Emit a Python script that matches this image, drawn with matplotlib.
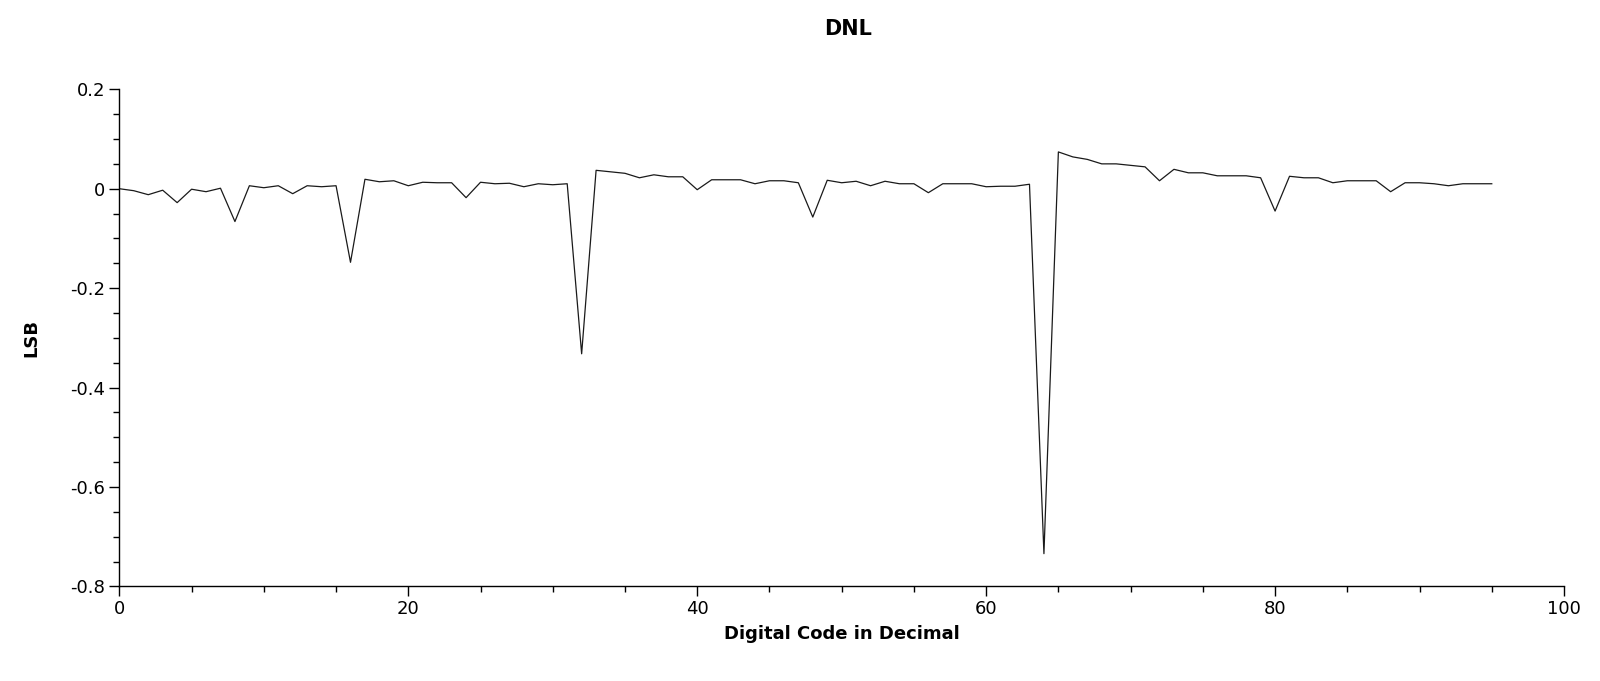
import numpy as np
import matplotlib
matplotlib.use("Agg")
import matplotlib.pyplot as plt
from matplotlib.ticker import MultipleLocator

# digital codes 0..95 and measured DNL (LSB)
codes = np.arange(96)
dnl = [
    0.000, -0.004, -0.012, -0.003, -0.028, -0.001, -0.006, 0.001,
    -0.066, 0.006, 0.002, 0.006, -0.010, 0.006, 0.004, 0.006,
    -0.148, 0.019, 0.014, 0.016, 0.006, 0.013, 0.012, 0.012,
    -0.018, 0.013, 0.010, 0.011, 0.004, 0.010, 0.008, 0.010,
    -0.332, 0.037, 0.034, 0.031, 0.022, 0.028, 0.024, 0.024,
    -0.002, 0.018, 0.018, 0.018, 0.010, 0.016, 0.016, 0.012,
    -0.057, 0.017, 0.012, 0.015, 0.006, 0.015, 0.010, 0.010,
    -0.008, 0.010, 0.010, 0.010, 0.004, 0.005, 0.005, 0.009,
    -0.734, 0.074, 0.064, 0.059, 0.050, 0.050, 0.047, 0.044,
    0.016, 0.039, 0.032, 0.032, 0.026, 0.026, 0.026, 0.022,
    -0.045, 0.025, 0.022, 0.022, 0.012, 0.016, 0.016, 0.016,
    -0.006, 0.012, 0.012, 0.010, 0.006, 0.010, 0.010, 0.010,
]
x_ticks = [0, 20, 40, 60, 80, 100]
y_ticks = [-0.8, -0.6, -0.4, -0.2, 0, 0.2]
y_tick_labels = ["-0.8", "-0.6", "-0.4", "-0.2", "0", "0.2"]

fig = plt.figure(figsize=(16, 6.81), dpi=100)
ax = fig.add_axes([0.0746, 0.1388, 0.9029, 0.7301])
ax.plot(codes, dnl, color="#1a1a1a", lw=0.9)

ax.set_xlim(0, 100)
ax.set_ylim(-0.8, 0.2)
ax.set_xticks(x_ticks)
ax.set_xticklabels([str(v) for v in x_ticks])
ax.set_yticks(y_ticks)
ax.set_yticklabels(y_tick_labels)
ax.xaxis.set_minor_locator(MultipleLocator(5))
ax.yaxis.set_minor_locator(MultipleLocator(0.05))
ax.tick_params(which="major", length=7, width=1, labelsize=13, pad=3)
ax.tick_params(which="minor", length=4, width=1)
for s in ("top", "right"):
    ax.spines[s].set_visible(False)
for s in ("left", "bottom"):
    ax.spines[s].set_linewidth(1)

ax.set_xlabel("Digital Code in Decimal", fontsize=13, fontweight="bold", labelpad=5)
ax.set_ylabel("LSB", fontsize=13, fontweight="bold", labelpad=22)
fig.text(0.53, 0.957, "DNL", ha="center", va="center", fontsize=15, fontweight="bold")

fig.savefig("out.png", dpi=100)
